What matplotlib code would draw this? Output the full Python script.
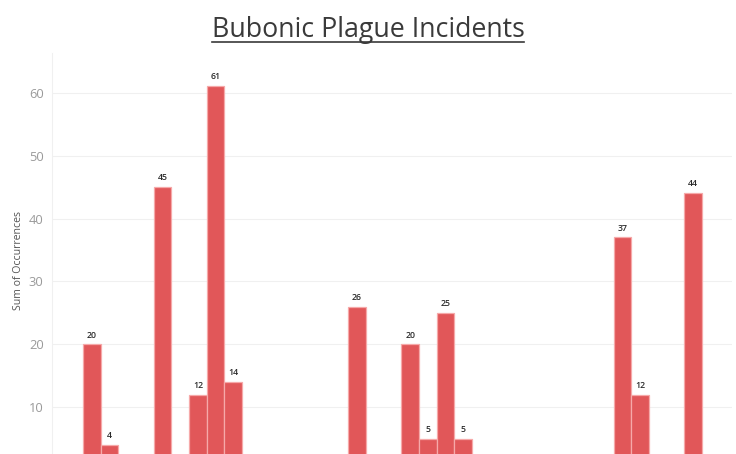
import matplotlib
matplotlib.use("Agg")
import matplotlib.pyplot as plt
from matplotlib.lines import Line2D

plt.rcParams['font.family'] = ['Open Sans', 'DejaVu Sans']

# slot index along the x axis (35 slots, most empty) and the occurrence sums
slots = [0, 1, 4, 6, 7, 8, 15, 18, 19, 20, 21, 30, 31, 34]
counts = [20, 4, 45, 12, 61, 14, 26, 20, 5, 25, 5, 37, 12, 44]
ticks = [10, 20, 30, 40, 50, 60]

W, H = 736, 454
fig = plt.figure(figsize=(W / 100, H / 100), dpi=100)
ax = fig.add_axes([52 / W, 0, 680 / W, (H - 53) / H])

ax.bar(slots, counts, width=1.0, color='#e15759', edgecolor='#f6a9a9', linewidth=0.9, zorder=3)
for s, c in zip(slots, counts):
    ax.annotate(str(c), (s, c), xytext=(0, 3.5), textcoords='offset points',
                ha='center', va='bottom', fontsize=6.3, fontweight='semibold',
                color='#2b2b2b', zorder=4)

ax.set_xlim(-2.25, 36.2)
ax.set_ylim(2.58, 66.3)
ax.set_yticks(ticks)
ax.yaxis.grid(True, color='#f0f0f0', linewidth=0.8, zorder=0)
ax.tick_params(axis='y', length=0, pad=6, labelsize=9.3, labelcolor='#9a9a9a')
ax.set_xticks([])
for side in ['top', 'right', 'bottom']:
    ax.spines[side].set_visible(False)
ax.spines['left'].set_color('#f0f0f0')
ax.spines['left'].set_linewidth(0.8)

fig.text(19 / W, 1 - 261 / H, 'Sum of Occurrences', rotation=90, ha='center', va='center',
         fontsize=7.6, color='#555555')

title = fig.text(368 / W, 1 - 37 / H, 'Bubonic Plague Incidents', ha='center', va='baseline',
                 fontsize=19.3, color='#3a3a3a')
fig.canvas.draw()
bb = title.get_window_extent(fig.canvas.get_renderer())
uy = (H - 41.7) / H
fig.add_artist(Line2D([bb.x0 / W, bb.x1 / W], [uy, uy], transform=fig.transFigure,
                      color='#3a3a3a', linewidth=1.2))

fig.savefig('out.png', dpi=100)
